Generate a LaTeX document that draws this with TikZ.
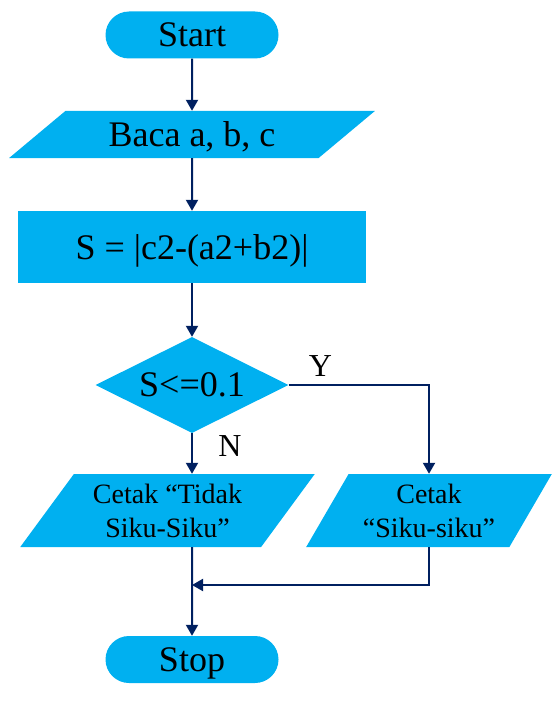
\documentclass[tikz,border=0pt]{standalone}
\usepackage{fontspec}
\setmainfont{Liberation Serif}
\usetikzlibrary{shapes.geometric,shapes.misc,arrows.meta}
\definecolor{flowblue}{HTML}{00B0F0}
\definecolor{flownavy}{HTML}{002060}
\tikzset{
  flow/.style={draw=flownavy,line width=2pt,-{Triangle[length=11pt,width=12pt]}},
  terminal/.style={rounded rectangle,fill=flowblue,minimum width=173pt,minimum height=47pt,inner sep=0pt,text depth=0pt,font=\fontsize{36}{40}\selectfont},
  iobox/.style={trapezium,trapezium stretches=true,fill=flowblue,inner sep=0pt},
  procbox/.style={rectangle,fill=flowblue,minimum width=348pt,minimum height=72pt,inner sep=0pt,text depth=0pt,font=\fontsize{36}{40}\selectfont},
  decbox/.style={diamond,aspect=2,fill=flowblue,minimum width=193pt,minimum height=96pt,inner sep=0pt,text depth=0pt,font=\fontsize{36}{40}\selectfont},
  branch/.style={font=\fontsize{32}{36}\selectfont}
}
\begin{document}
\begin{tikzpicture}[x=1pt,y=-1pt]
\useasboundingbox (0,0) rectangle (556,706);
\node[terminal] (start) at (192,35) {Start};
\node[iobox,trapezium left angle=34,trapezium right angle=146,minimum width=367pt,minimum height=47pt,text depth=0pt,font=\fontsize{36}{40}\selectfont] (read) at (192,134.5) {Baca a, b, c};
\node[procbox] (calc) at (192,247) {S = |c2-(a2+b2)|};
\node[decbox] (check) at (192,385) {S<=0.1};
\node[iobox,trapezium left angle=51.5,trapezium right angle=128.5,minimum width=295pt,minimum height=73pt,align=center,font=\fontsize{28}{34}\selectfont] (nosiku) at (167.5,510.5) {Cetak “Tidak\\Siku-Siku”};
\node[iobox,trapezium left angle=57,trapezium right angle=123,minimum width=246pt,minimum height=73pt,align=center,font=\fontsize{28}{34}\selectfont] (siku) at (429,510.5) {Cetak\\“Siku-siku”};
\node[terminal] (stop) at (192,659.5) {Stop};
\node[branch] (yes) at (320.5,366) {Y};
\node[branch] (no) at (230,446.5) {N};
\coordinate (join) at (192,585);
\draw[flow] (start) -- (read);
\draw[flow] (read) -- (calc);
\draw[flow] (calc) -- (check);
\draw[flow] (check.east) -| (siku.north);
\draw[flow] (check.south) -- (check.south |- nosiku.north);
\draw[flow] (check.south |- nosiku.south) -- (stop);
\draw[flow] (siku.south) |- (join);
\end{tikzpicture}
\end{document}
